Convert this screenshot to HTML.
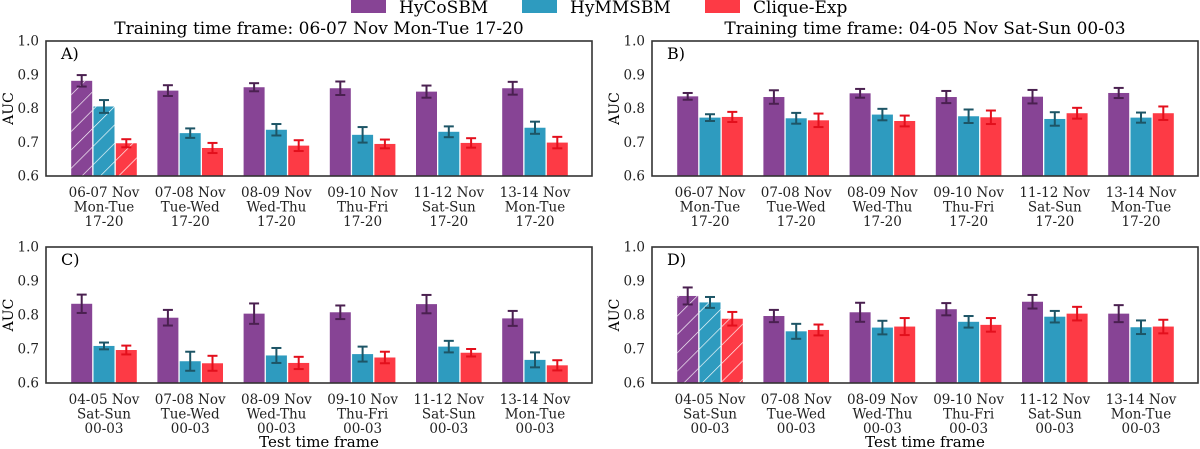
<!DOCTYPE html>
<html><head><meta charset="utf-8">
<style>
html,body{margin:0;padding:0;background:#fff;}
svg{display:block;font-family:"DejaVu Serif","Liberation Serif",serif;}
</style></head>
<body>
<svg id="chart" width="1200" height="449" viewBox="0 0 1200 449" xmlns="http://www.w3.org/2000/svg">
<defs>
<pattern id="hatch" patternUnits="userSpaceOnUse" width="13" height="10" patternTransform="rotate(45)">
<line x1="0" y1="0" x2="0" y2="10" stroke="#fff" stroke-width="1.3"/>
</pattern>
</defs>
<g id="legend">
<g><rect x="351" y="0" width="35" height="13" fill="#874495"/><text x="399" y="13" font-size="17">HyCoSBM</text></g>
<g><rect x="522" y="0" width="35" height="13" fill="#2e9bbf"/><text x="570" y="13" font-size="17">HyMMSBM</text></g>
<g><rect x="705" y="0" width="35" height="13" fill="#fd3a45"/><text x="753" y="13" font-size="17">Clique-Exp</text></g>
</g>
<text x="319" y="34" font-size="17" text-anchor="middle">Training time frame: 06-07 Nov Mon-Tue 17-20</text>
<text x="925" y="34" font-size="17" text-anchor="middle">Training time frame: 04-05 Nov Sat-Sun 00-03</text>
<text x="319" y="447" font-size="15" text-anchor="middle">Test time frame</text>
<text x="925" y="447" font-size="15" text-anchor="middle">Test time frame</text>
<g id="panels"></g>
</svg>
<script>
const series = ["HyCoSBM","HyMMSBM","Clique-Exp"];
const yTicks = [0.6,0.7,0.8,0.9,1.0];
const catsTop = [["06-07 Nov","Mon-Tue","17-20"],["07-08 Nov","Tue-Wed","17-20"],["08-09 Nov","Wed-Thu","17-20"],["09-10 Nov","Thu-Fri","17-20"],["11-12 Nov","Sat-Sun","17-20"],["13-14 Nov","Mon-Tue","17-20"]];
const catsBot = [["04-05 Nov","Sat-Sun","00-03"],["07-08 Nov","Tue-Wed","00-03"],["08-09 Nov","Wed-Thu","00-03"],["09-10 Nov","Thu-Fri","00-03"],["11-12 Nov","Sat-Sun","00-03"],["13-14 Nov","Mon-Tue","00-03"]];
// Panel A
const aHyCo = [0.882,0.853,0.863,0.860,0.850,0.860];
const aHyMM = [0.806,0.727,0.737,0.722,0.731,0.743];
const aClique = [0.697,0.683,0.690,0.695,0.698,0.699];
const aHyCoErr = [0.017,0.016,0.012,0.020,0.018,0.019];
const aHyMMErr = [0.019,0.014,0.017,0.023,0.016,0.018];
const aCliqueErr = [0.012,0.015,0.016,0.013,0.014,0.017];
// Panel B
const bHyCo = [0.836,0.834,0.845,0.834,0.835,0.846];
const bHyMM = [0.773,0.771,0.782,0.777,0.769,0.773];
const bClique = [0.775,0.765,0.763,0.774,0.786,0.786];
const bHyCoErr = [0.010,0.020,0.013,0.018,0.020,0.015];
const bHyMMErr = [0.010,0.016,0.017,0.020,0.020,0.015];
const bCliqueErr = [0.015,0.020,0.016,0.020,0.016,0.020];
// Panel C
const cHyCo = [0.833,0.792,0.804,0.808,0.832,0.790];
const cHyMM = [0.709,0.664,0.681,0.685,0.707,0.668];
const cClique = [0.697,0.658,0.659,0.675,0.689,0.652];
const cHyCoErr = [0.027,0.023,0.030,0.020,0.027,0.022];
const cHyMMErr = [0.010,0.028,0.022,0.022,0.017,0.022];
const cCliqueErr = [0.013,0.022,0.018,0.017,0.011,0.015];
// Panel D
const dHyCo = [0.856,0.797,0.808,0.817,0.839,0.804];
const dHyMM = [0.837,0.752,0.763,0.780,0.795,0.764];
const dClique = [0.789,0.756,0.766,0.771,0.804,0.766];
const dHyCoErr = [0.025,0.018,0.028,0.018,0.020,0.025];
const dHyMMErr = [0.016,0.022,0.020,0.017,0.017,0.020];
const dCliqueErr = [0.020,0.016,0.025,0.020,0.020,0.020];

const NS = "http://www.w3.org/2000/svg";
const fills = ["#874495","#2e9bbf","#fd3a45"];
const errCols = ["#4a2050","#1d5566","#e30f1c"];
const root = document.getElementById('panels');
function mk(tag, attrs, parent){const e=document.createElementNS(NS,tag);for(const k in attrs)e.setAttribute(k,attrs[k]);(parent||root).appendChild(e);return e;}

function panel(label, L, T, R, B, cats, vals, errs, hatchFirst, ylabX){
  const g = mk('g',{});
  
  
  const y = v => B - (v - 0.6) / 0.4 * (B - T);
  const xc = i => L + 58 + i * 86.2;
  const bw = 21, pitch = 22.3;
  yTicks.forEach(t => {
    const tx = mk('text',{x:L-7,y:y(t)+4.5,'font-size':13.5,'text-anchor':'end',fill:'#222'},g);
    tx.textContent = t.toFixed(1);
    
    
  });
  const yl = mk('text',{x:0,y:0,'font-size':14,'text-anchor':'middle',transform:`translate(${ylabX},${(T+B)/2}) rotate(-90)`},g);
  yl.textContent = 'AUC';
  
  
  cats.forEach((c,i) => {
    vals.forEach((s,k) => {
      const x0 = xc(i) + (k-1)*pitch - bw/2;
      const r = mk('rect',{x:x0,y:y(s[i]),width:bw,height:B-y(s[i]),fill:fills[k]},g);
      
      
      if(hatchFirst && i===0){
        const h = mk('rect',{x:x0,y:y(s[i]),width:bw,height:B-y(s[i]),fill:'url(#hatch)'},g);
        
        
      }
      const e = errs[k][i], cx = x0 + bw/2, col = errCols[k];
      const eg = mk('g',{stroke:col,'stroke-width':2},g);
      
      
      mk('line',{x1:cx,x2:cx,y1:y(s[i]-e),y2:y(s[i]+e)},eg);
      mk('line',{x1:cx-5,x2:cx+5,y1:y(s[i]-e),y2:y(s[i]-e)},eg);
      mk('line',{x1:cx-5,x2:cx+5,y1:y(s[i]+e),y2:y(s[i]+e)},eg);
    });
    c.forEach((ln,j) => {
      const t = mk('text',{x:xc(i),y:B+21+j*14.5,'font-size':13.5,'text-anchor':'middle',fill:'#222'},g);
      t.textContent = ln;
      
      
    });
  });
  const fr = mk('rect',{x:L,y:T,width:R-L,height:B-T,fill:'none',stroke:'#333','stroke-width':1.6},g);
  
  
  const pl = mk('text',{x:L+15,y:T+18,'font-size':16},g);
  pl.textContent = label + ')';
  
  
}
panel('A',46,41,592,176,catsTop,[aHyCo,aHyMM,aClique],[aHyCoErr,aHyMMErr,aCliqueErr],true,13);
panel('B',652,41,1198,176,catsTop,[bHyCo,bHyMM,bClique],[bHyCoErr,bHyMMErr,bCliqueErr],false,619);
panel('C',46,247,592,383,catsBot,[cHyCo,cHyMM,cClique],[cHyCoErr,cHyMMErr,cCliqueErr],false,13);
panel('D',652,247,1198,383,catsBot,[dHyCo,dHyMM,dClique],[dHyCoErr,dHyMMErr,dCliqueErr],true,619);
</script>
</body></html>
